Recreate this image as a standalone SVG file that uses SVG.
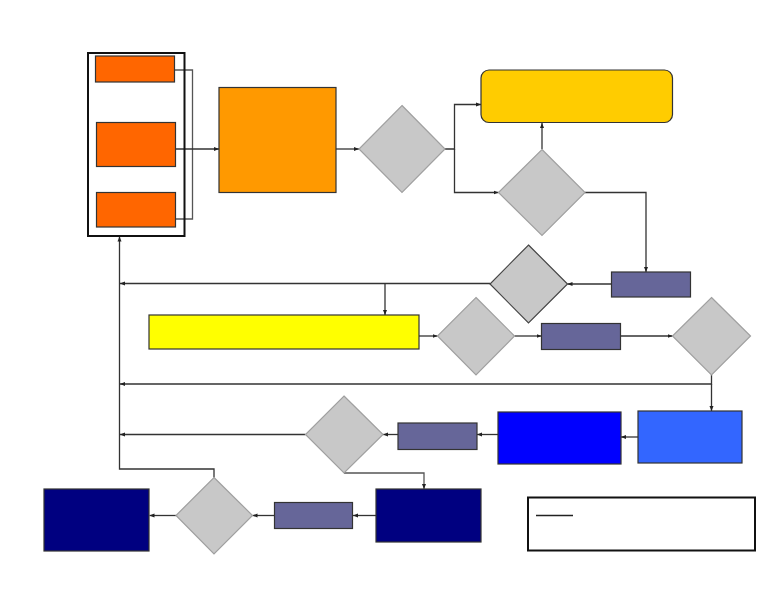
<svg xmlns="http://www.w3.org/2000/svg" width="768" height="594" viewBox="0 0 768 594">
<style>
.box{stroke:#333;stroke-width:1.2}
.dia{fill:#C8C8C8;stroke:#A0A0A0;stroke-width:1.2}
.c{fill:none;stroke:#333;stroke-width:1.3}
.cl{fill:none;stroke:#555;stroke-width:1.3}
</style>
<defs>
<marker id="ah" viewBox="0 0 10 10" refX="10" refY="5" markerWidth="5" markerHeight="5" orient="auto" markerUnits="userSpaceOnUse">
<path d="M0,1 L10,5 L0,9 z" fill="#222"/>
</marker>
</defs>
<rect width="768" height="594" fill="#fff"/>
<g id="connectors">
<polyline class="cl" points="175,70 192.5,70 192.5,219 176,219"/>
<line class="c" x1="176" y1="149" x2="219" y2="149" marker-end="url(#ah)"/>
<line class="c" x1="336" y1="149" x2="359" y2="149" marker-end="url(#ah)"/>
<polyline class="c" points="445,149 454.5,149 454.5,104.5 481,104.5" marker-end="url(#ah)"/>
<polyline class="c" points="454.5,149 454.5,192.5 498.5,192.5" marker-end="url(#ah)"/>
<line class="c" x1="542" y1="149" x2="542" y2="123" marker-end="url(#ah)"/>
<polyline class="c" points="585,192.5 646,192.5 646,272" marker-end="url(#ah)"/>
<line class="c" x1="611" y1="284" x2="567.5" y2="284" marker-end="url(#ah)"/>
<line class="c" x1="490" y1="283.5" x2="120" y2="283.5" marker-end="url(#ah)"/>
<line class="c" x1="385" y1="283.5" x2="385" y2="315" marker-end="url(#ah)"/>
<line class="c" x1="419" y1="336" x2="437.5" y2="336" marker-end="url(#ah)"/>
<line class="c" x1="514.5" y1="336" x2="541.5" y2="336" marker-end="url(#ah)"/>
<line class="c" x1="621" y1="336" x2="672.5" y2="336" marker-end="url(#ah)"/>
<polyline class="c" points="711.5,375 711.5,384 120,384" marker-end="url(#ah)"/>
<line class="c" x1="711.5" y1="384" x2="711.5" y2="411" marker-end="url(#ah)"/>
<line class="c" x1="638" y1="437" x2="621" y2="437" marker-end="url(#ah)"/>
<line class="c" x1="498" y1="434.5" x2="477" y2="434.5" marker-end="url(#ah)"/>
<line class="c" x1="398" y1="434.5" x2="383" y2="434.5" marker-end="url(#ah)"/>
<line class="c" x1="305.5" y1="434.5" x2="120" y2="434.5" marker-end="url(#ah)"/>
<polyline class="cl" points="344,473 424,473 424,489" marker-end="url(#ah)"/>
<line class="c" x1="376" y1="515.5" x2="353" y2="515.5" marker-end="url(#ah)"/>
<line class="c" x1="274" y1="515.5" x2="252.5" y2="515.5" marker-end="url(#ah)"/>
<line class="c" x1="176" y1="515.5" x2="149.5" y2="515.5" marker-end="url(#ah)"/>
<polyline class="c" points="214,477.5 214,469 119.5,469 119.5,236.5" marker-end="url(#ah)"/>
</g>
<g id="container"><rect x="88" y="53" width="96.5" height="183" fill="none" stroke="#111" stroke-width="2"/></g>
<g id="src1"><rect class="box" x="95.5" y="56" width="79" height="26" fill="#FF6600"/></g>
<g id="src2"><rect class="box" x="96.5" y="122.5" width="79" height="44" fill="#FF6600"/></g>
<g id="src3"><rect class="box" x="96.5" y="192.5" width="79" height="34.5" fill="#FF6600"/></g>
<g id="process"><rect class="box" x="219" y="87.5" width="117" height="105" fill="#FF9900"/></g>
<g id="d1"><polygon class="dia" points="402,105.5 445,149 402,192.5 359,149"/></g>
<g id="result"><rect x="481" y="70" width="191.5" height="52.5" rx="8" fill="#FFCC00" stroke="#333" stroke-width="1.2"/></g>
<g id="d2"><polygon class="dia" points="542,149.5 585,192.5 542,235.5 498.5,192.5"/></g>
<g id="p1"><rect class="box" x="611.5" y="272" width="79" height="25" fill="#666699"/></g>
<g id="d3"><polygon points="528.5,245 567.5,284 528.5,323 490,284" fill="#C8C8C8" stroke="#444" stroke-width="1.2"/></g>
<g id="yellow"><rect class="box" x="149" y="315" width="270" height="34" fill="#FFFF00"/></g>
<g id="d4"><polygon class="dia" points="476,297.5 514.5,336 476,375 437.5,336"/></g>
<g id="p2"><rect class="box" x="541.5" y="323.5" width="79" height="26" fill="#666699"/></g>
<g id="d5"><polygon class="dia" points="711.5,297.5 750.5,336 711.5,375 672.5,336"/></g>
<g id="lightblue"><rect class="box" x="638" y="411" width="104" height="52" fill="#3366FF"/></g>
<g id="blue"><rect class="box" x="498" y="412" width="123" height="52" fill="#0000FF"/></g>
<g id="p3"><rect class="box" x="398" y="423" width="79" height="26.5" fill="#666699"/></g>
<g id="d6"><polygon class="dia" points="344,396 383,434.5 344,473 305.5,434.5"/></g>
<g id="navy1"><rect class="box" x="376" y="489" width="105" height="53" fill="#000080"/></g>
<g id="p4"><rect class="box" x="274.5" y="502.5" width="78" height="26" fill="#666699"/></g>
<g id="d7"><polygon class="dia" points="214,477.5 252.5,515.5 214,554 176,515.5"/></g>
<g id="navy2"><rect class="box" x="44" y="489" width="105" height="62" fill="#000080"/></g>
<g id="legend">
<rect x="528" y="497.5" width="227" height="53" fill="none" stroke="#111" stroke-width="2"/>
<line x1="536" y1="515.5" x2="573" y2="515.5" stroke="#222" stroke-width="1.3"/>
</g>
</svg>
